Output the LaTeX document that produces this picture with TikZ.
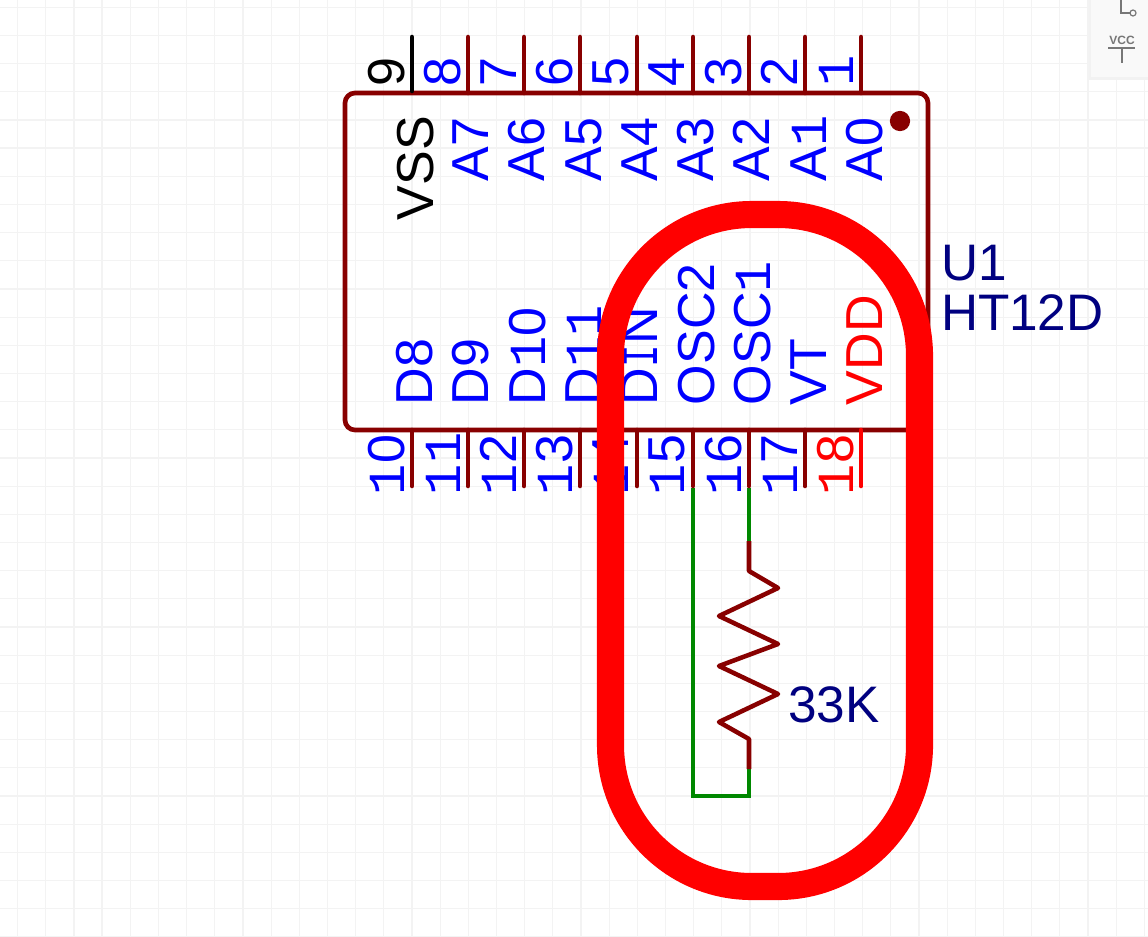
\documentclass[tikz,border=0pt]{standalone}
\usepackage{fontspec}
\setmainfont{Liberation Sans}
\newfontfamily\pinmono{Liberation Mono}
\newcommand{\pOne}{{\pinmono 1}}
\newcommand{\pEye}{{\pinmono\scalebox{.72}[1]{I}}}
\definecolor{chip}{HTML}{880000}
\definecolor{wire}{HTML}{008800}
\definecolor{gridc}{HTML}{F3F3F3}
\definecolor{labelblue}{HTML}{0000FF}
\definecolor{navy}{HTML}{000080}
\definecolor{iconc}{HTML}{777777}
\tikzset{
  pinline/.style={draw=chip,line width=3.4pt,line cap=round},
  wireline/.style={draw=wire,line width=3.4pt,line join=miter},
  resline/.style={draw=chip,line width=3.4pt,line join=round},
  pintext/.style={font=\fontsize{39pt}{39pt}\selectfont,rotate=90,anchor=base west,inner sep=0pt,outer sep=0pt},
  nametext/.style={font=\fontsize{38.5pt}{38.5pt}\selectfont,anchor=base west,inner sep=0pt,outer sep=0pt,text=navy},
  body/.style={draw=chip,line width=3.5pt,rounded corners=7.5pt,inner sep=0pt,outer sep=0pt,minimum width=437.25pt,minimum height=252.75pt},
}
\begin{document}
\begin{tikzpicture}[x=0.75pt,y=-0.75pt]
\useasboundingbox (0,0) rectangle (1148,936);
\fill[white] (0,0) rectangle (1148,936);
% grid
\foreach \k in {-26,...,14}{\draw[gridc,line width=0.9pt] ({750+28.17*\k},0) -- ({750+28.17*\k},936);}
\foreach \k in {-5,...,28}{\draw[gridc,line width=0.9pt] (0,{796-28.17*\k}) -- (1148,{796-28.17*\k});}
% tool panel
\fill[black!5] (1089,0) rectangle (1148,80);
\node[fill=black!2.5,minimum width=42.75pt,minimum height=57.75pt,inner sep=0pt,outer sep=0pt,anchor=north west] (panel) at (1091,0) {};
\coordinate (la) at (1121,0); \coordinate (lb) at (1121,13); \coordinate (lc) at (1130,13);
\draw[iconc,line width=0.9pt] (la) -- (lb) -- (lc);
\node[draw=iconc,line width=0.9pt,circle,minimum size=4.5pt,inner sep=0pt] (lo) at (1133,13) {};
\node[font=\bfseries\fontsize{9pt}{9pt}\selectfont,text=iconc,inner sep=0pt] (vcc) at (1122,40) {VCC};
\coordinate (va) at (1108,48); \coordinate (vb) at (1135,48); \coordinate (vm) at (1122,48); \coordinate (ve) at (1122,63);
\draw[iconc,line width=1pt] (va) -- (vb) (vm) -- (ve);
% body
\node[body,anchor=north west] (U) at (345,93) {};
\fill[chip] (900,121) circle (7.6pt);
% wires (under the pin ends)
\coordinate (w1) at (749,488); \coordinate (r1) at (749,541);
\coordinate (r2) at (749,769); \coordinate (c1) at (749,796); \coordinate (c2) at (693,796); \coordinate (w2) at (693,488);
\draw[wireline] (w1) -- (r1);
\draw[wireline] (r2) -- (c1) -- (c2) -- (w2);
\draw[resline] (r1) -- (749,571) -- (778,588) -- (719,616) -- (778,644) -- (719,666) -- (778,694) -- (719,722) -- (749,739) -- (r2);
% pins
\foreach \n/\x in {8/468,7/524,6/580,5/637,4/693,3/749,2/805,1/861}{
  \coordinate (pt\n) at (\x,37); \coordinate (pa\n) at (\x,93);
  \draw[pinline] (pt\n) -- (pa\n);
}
\coordinate (pt9) at (412,37); \coordinate (pa9) at (412,91);
\draw[draw=black,line width=3.4pt,line cap=round] (pt9) -- (pa9);
\foreach \n/\x in {10/412,11/468,12/524,13/580,14/637,15/693,16/749,17/805}{
  \coordinate (pb\n) at (\x,430); \coordinate (pe\n) at (\x,486);
  \draw[pinline] (pb\n) -- (pe\n);
}
\coordinate (pb18) at (861,430); \coordinate (pe18) at (861,486);
\draw[pinline,draw=red] (pb18) -- (pe18);
% top pin numbers
\node[pintext] (n9) at (404,86) {9};
\foreach \n/\t/\x in {8/8/460,7/7/516,6/6/572,5/5/628,4/4/684,3/3/741,2/2/797,1/\pOne/853}{
  \node[pintext,text=labelblue] (n\n) at (\x,86) {\t};
}
% bottom pin numbers
\foreach \n/\t/\x in {10/\pOne0/404,11/\pOne\pOne/460,12/\pOne2/516,13/\pOne3/572,14/\pOne4/628,15/\pOne5/684,16/\pOne6/741,17/\pOne7/797}{
  \node[pintext,text=labelblue] (n\n) at (\x,495) {\t};
}
\node[pintext,text=red] (n18) at (853,495) {\pOne8};
% internal labels
\node[pintext] (lVSS) at (433,220) {VSS};
\foreach \n/\t/\x in {A7/A7/488,A6/A6/544,A5/A5/601,A4/A4/657,A3/A3/713,A2/A2/769,A1/A\pOne/826,A0/A0/882}{
  \node[pintext,text=labelblue] (l\n) at (\x,181) {\t};
}
\foreach \n/\t/\x in {D8/D8/432,D9/D9/488,D10/D\pOne0/545,D11/D\pOne\pOne/601,DIN/D\pEye N/657,OSC2/OSC2/714,OSC1/OSC\pOne/770,VT/VT/826}{
  \node[pintext,text=labelblue] (l\n) at (\x,405) {\t};
}
\node[pintext,text=red] (lVDD) at (882,405) {VDD};
\node[nametext] (u1) at (941,280) {U1};
\node[nametext] (ht) at (941,330) {HT12D};
\node[nametext] (val) at (788,722) {33K};
% red highlight
\draw[red,line width=20.3pt,rounded corners=106pt] (610.5,214.5) rectangle (919.5,886.5);
\end{tikzpicture}
\end{document}
